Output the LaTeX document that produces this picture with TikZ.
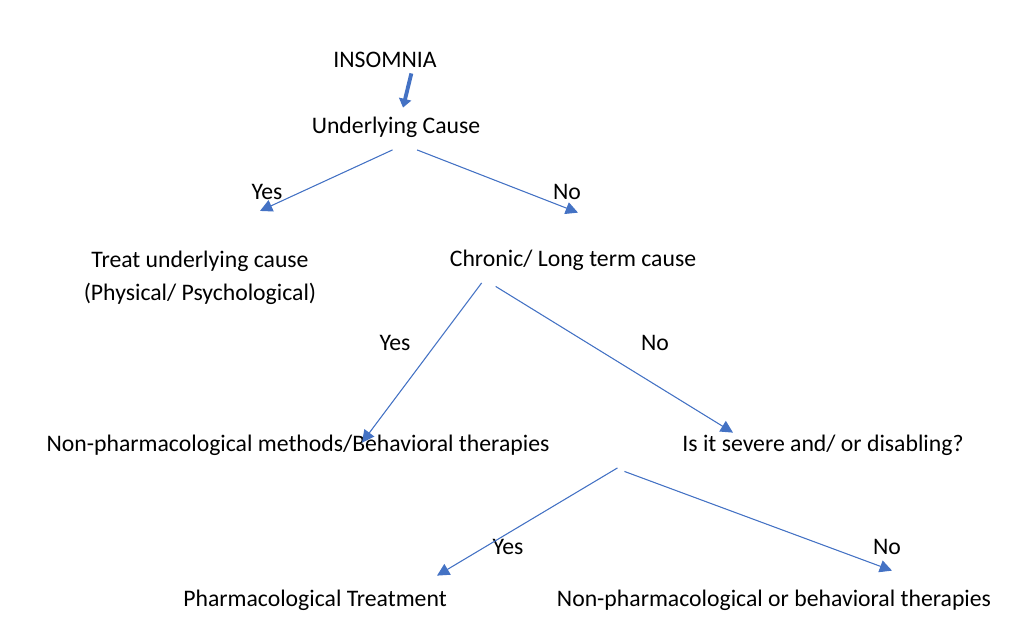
\documentclass[tikz,border=0pt]{standalone}
\usepackage{fontspec}
\setmainfont{Carlito}
\usetikzlibrary{arrows.meta,positioning,calc}
\definecolor{flowblue}{HTML}{4472C4}
\begin{document}
\begin{tikzpicture}[
  x=0.02cm, y=-0.02cm,
  every node/.style={font=\fontsize{13.5}{19}\selectfont, inner sep=1pt},
  txt/.style={align=center},
  ar/.style={-{Triangle[length=7pt,width=7pt]}, draw=flowblue, fill=flowblue, line width=0.6pt},
  bigar/.style={-{Triangle[length=5pt,width=7pt]}, draw=flowblue, line width=2.2pt}
]
  \useasboundingbox (0,0) rectangle (1024,633);
  % levels
  \node[txt] (ins) at (385,60) {INSOMNIA};
  \node[txt] (uc) at (396,127) {Underlying Cause};
  \node[txt] (treat) at (200,278) {Treat underlying cause\\(Physical/ Psychological)};
  \node[txt] (chr) at (573,260) {Chronic/ Long term cause};
  \node[txt] (nonph) at (298,445) {Non-pharmacological methods/Behavioral therapies};
  \node[txt] (sev) at (823,445) {Is it severe and/ or disabling?};
  \node[txt] (pharm) at (315,600) {Pharmacological Treatment};
  \node[txt] (nonbeh) at (774,600) {Non-pharmacological or behavioral therapies};

  % labels
  \node (y1) at (267,192) {Yes};
  \node (n1) at (567,192) {No};
  \node (y2) at (395,343) {Yes};
  \node (n2) at (655,343) {No};
  \node (y3) at (508,547) {Yes};
  \node (n3) at (887,547) {No};

  % connectors
  \draw[bigar] ([xshift=15pt,yshift=-2pt]ins.south) -- ([xshift=4pt,yshift=4pt]uc.north);
  \draw[ar] ([xshift=-2pt,yshift=-6pt]uc.south) -- ($(treat.north)+(60,-38)$);
  \draw[ar] ([xshift=12pt,yshift=-6pt]uc.south) -- ($(chr.north)+(5,-35)$);
  \draw[ar] ([xshift=-52pt,yshift=-6pt]chr.south) -- ($(nonph.north)+(64,10)$);
  \draw[ar] ([xshift=-44pt,yshift=-8pt]chr.south) -- ($(sev.north)+(-90,0)$);
  \draw[ar] ([xshift=-117pt,yshift=-6pt]sev.south) -- ($(pharm.north)+(122,-12)$);
  \draw[ar] ([xshift=-113pt,yshift=-8pt]sev.south) -- ($(nonbeh.north)+(118,-17)$);
\end{tikzpicture}
\end{document}
